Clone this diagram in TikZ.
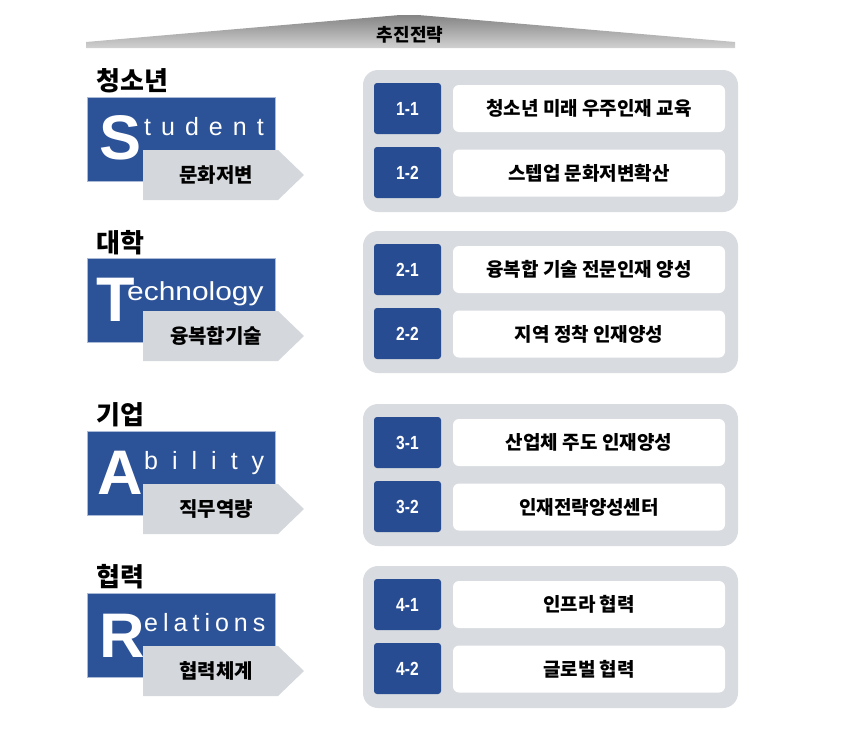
\documentclass[tikz,border=0pt]{standalone}
\usepackage{fontspec}
\usepackage{tikz}
\setsansfont{Liberation Sans}
\newfontfamily\kr{Noto Sans CJK KR}
\definecolor{stblue}{RGB}{44,82,152}
\definecolor{numblue}{RGB}{40,76,146}
\definecolor{arrowgray}{RGB}{212,215,219}
\definecolor{panelgray}{RGB}{216,219,223}

\begin{document}
\begin{tikzpicture}[x=1pt,y=-1pt,
        grouptitle/.style={anchor=west,inner sep=0,font=\kr\bfseries\fontsize{26}{26}\selectfont},
        bluebox/.style={fill=stblue,draw=stblue!40,line width=0.6pt,minimum width=188pt,minimum height=84pt,inner sep=0},
        bigletter/.style={anchor=base west,inner sep=0,text=white,font=\sffamily\bfseries\fontsize{63}{63}\selectfont},
        keyword/.style={anchor=base west,inner sep=0,text=white,font=\sffamily\fontsize{25}{25}\selectfont},
        tagtext/.style={inner sep=0,font=\kr\bfseries\fontsize{20}{20}\selectfont},
        panelbox/.style={fill=panelgray,rounded corners=15pt,minimum width=375pt,minimum height=142pt,inner sep=0},
        numbox/.style={fill=numblue,rounded corners=3pt,minimum width=67pt,minimum height=51pt,inner sep=0,text=white,font=\sffamily\bfseries\fontsize{19}{19}\selectfont\addfontfeature{FakeStretch=0.82}},
        itembox/.style={fill=white,rounded corners=6pt,minimum width=272pt,minimum height=47pt,inner sep=0,font=\kr\bfseries\fontsize{19}{19}\selectfont}]
        \useasboundingbox (0,0) rectangle (860,739);

        \shade[top color=black!48,bottom color=black!18] (86,42) -- (400,15) -- (418,15) -- (735,42) -- (735,48) -- (86,48) -- cycle;
        \node[inner sep=0,font=\kr\bfseries\fontsize{18}{18}\selectfont] (strategy) at (410,35){추진전략};

        \node[grouptitle] (t1) at (96,81){청소년};
        \node[bluebox,anchor=north west] (b1) at (87,97){};
        \node[keyword] (w1) at (144,135){\addfontfeature{LetterSpace=40}tudent};
        \fill[arrowgray] (143,150) -- (278,150) -- (304,175) -- (278,200) -- (143,200) -- cycle;
        \node[tagtext] (a1) at (216,175){문화저변};
        \node[bigletter] (l1) at (99,159){S};
        \node[panelbox] (p1) at (550.5,141){};
        \node[numbox] (n11) at (407.5,108.5){1-1};
        \node[numbox] (n12) at (407.5,172.5){1-2};
        \node[itembox] (i11) at (589,108.5){청소년 미래 우주인재 교육};
        \node[itembox] (i12) at (589,173){스텝업 문화저변확산};

        \node[grouptitle] (t2) at (96,243){대학};
        \node[bluebox,anchor=north west] (b2) at (87,258){};
        \node[keyword,font=\sffamily\fontsize{26}{26}\selectfont\addfontfeature{FakeStretch=1.15}] (w2) at (127,300){echnology};
        \fill[arrowgray] (143,311) -- (278,311) -- (304,336) -- (278,361) -- (143,361) -- cycle;
        \node[tagtext] (a2) at (216,336){융복합기술};
        \node[bigletter] (l2) at (96,321){T};
        \node[panelbox] (p2) at (550.5,302){};
        \node[numbox] (n21) at (407.5,269.5){2-1};
        \node[numbox] (n22) at (407.5,333.5){2-2};
        \node[itembox] (i21) at (589,269.5){융복합 기술 전문인재 양성};
        \node[itembox] (i22) at (589,334){지역 정착 인재양성};

        \node[grouptitle] (t3) at (96,415){기업};
        \node[bluebox,anchor=north west] (b3) at (87,431){};
        \node[keyword] (w3) at (144,469){\addfontfeature{LetterSpace=56}bility};
        \fill[arrowgray] (143,484) -- (278,484) -- (304,509) -- (278,534) -- (143,534) -- cycle;
        \node[tagtext] (a3) at (216,509){직무역량};
        \node[bigletter] (l3) at (97,494){A};
        \node[panelbox] (p3) at (550.5,475){};
        \node[numbox] (n31) at (407.5,442.5){3-1};
        \node[numbox] (n32) at (407.5,506.5){3-2};
        \node[itembox] (i31) at (589,442.5){산업체 주도 인재양성};
        \node[itembox] (i32) at (589,507){인재전략양성센터};

        \node[grouptitle] (t4) at (96,577){협력};
        \node[bluebox,anchor=north west] (b4) at (87,593){};
        \node[keyword] (w4) at (144,631){\addfontfeature{LetterSpace=20}elations};
        \fill[arrowgray] (143,646) -- (278,646) -- (304,671) -- (278,696) -- (143,696) -- cycle;
        \node[tagtext] (a4) at (216,671){협력체계};
        \node[bigletter] (l4) at (99,657){R};
        \node[panelbox] (p4) at (550.5,637){};
        \node[numbox] (n41) at (407.5,604.5){4-1};
        \node[numbox] (n42) at (407.5,668.5){4-2};
        \node[itembox] (i41) at (589,604.5){인프라 협력};
        \node[itembox] (i42) at (589,669){글로벌 협력};

    \end{tikzpicture}
\end{document}
